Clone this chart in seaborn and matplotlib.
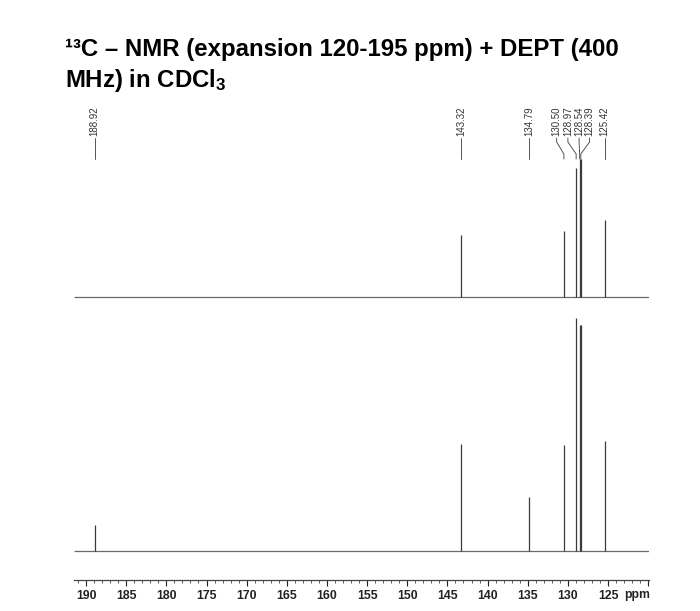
import matplotlib
matplotlib.use("Agg")
import matplotlib.pyplot as plt
import seaborn as sns

# peak positions (ppm) and heights (arbitrary units)
c13_ppm = [188.92, 143.32, 134.79, 130.50, 128.97, 128.54, 128.39, 125.42]
c13_height = [26, 107, 54, 106, 233, 226, 226, 110]
dept_ppm = [143.32, 130.50, 128.97, 128.54, 128.39, 125.42]
dept_height = [62, 66, 129, 138, 138, 77]
dept_offset = 254

# labelled shifts; the crowded group gets fanned-out labels
label_ppm = [188.92, 143.32, 134.79, 130.50, 128.97, 128.54, 128.39, 125.42]
cluster = [130.50, 128.97, 128.54, 128.39]
cluster_label_ppm = [131.4, 130.0, 128.6, 127.3]

major_ticks = list(range(190, 119, -5))
tick_labels = [str(t) for t in major_ticks[:-1]] + [""]
x_left, x_right = 191.5, 119.9

sns.set_style("white")
plt.rcParams['font.family'] = ['Liberation Sans', 'DejaVu Sans']
plt.rcParams['mathtext.fontset'] = 'custom'
plt.rcParams['mathtext.rm'] = 'Liberation Sans:bold'
plt.rcParams['mathtext.it'] = 'Liberation Sans:bold'

W, H = 700, 611
fig = plt.figure(figsize=(W / 100, H / 100), dpi=100)
ax = fig.add_axes([74 / W, (H - 580) / H, (649 - 74) / W, (580 - 100) / H])
ax.set_xlim(x_left, x_right)
ax.set_ylim(-29, 451)

line_col = "#3a3a3a"
# baselines
ax.hlines([0, dept_offset], x_left, x_right, color="#6a6a6a", lw=0.9)
# 13C spectrum (bottom)
ax.vlines(c13_ppm, 0, c13_height, color=line_col, lw=0.9)
# DEPT spectrum (top)
ax.vlines(dept_ppm, dept_offset, [dept_offset + h for h in dept_height],
          color=line_col, lw=0.9)

# peak labels
text_base, bend1, bend2, line_end = 415, 409, 397, 392
for p in label_ppm:
    if p in cluster:
        lx = cluster_label_ppm[cluster.index(p)]
        ax.plot([lx, lx, p, p], [text_base - 2, bend1, bend2, line_end],
                color="#555555", lw=0.7)
    else:
        lx = p
        ax.plot([p, p], [text_base - 2, line_end], color="#555555", lw=0.7)
    ax.text(lx, text_base, f"{p:.2f}", rotation=90, ha="center", va="bottom",
            fontsize=7, color="#333333")

# axis
sns.despine(ax=ax, left=True)
ax.spines['bottom'].set_color("#444444")
ax.spines['bottom'].set_linewidth(0.9)
ax.set_yticks([])
ax.set_xticks(major_ticks)
ax.set_xticklabels(tick_labels, fontsize=8.8, fontweight="bold")
ax.set_xticks(list(range(191, 119, -1)), minor=True)
ax.tick_params(axis="x", which="major", direction="out", length=4, width=0.8,
               pad=3, colors="#222222", bottom=True)
ax.tick_params(axis="x", which="minor", direction="out", length=2, width=0.6,
               colors="#444444", bottom=True)
ax.text(121.4, -15 / 480, "ppm", transform=ax.get_xaxis_transform(),
        ha="center", va="center", fontsize=8.8, fontweight="bold", color="#222222")

fig.text(65 / W, 1 - 38 / H,
         "¹³C – NMR (expansion 120-195 ppm) + DEPT (400\nMHz) in CDCl$_3$",
         ha="left", va="top", fontsize=17.3, fontweight="bold",
         linespacing=1.3, color="black")

fig.savefig("out.png", dpi=100)
